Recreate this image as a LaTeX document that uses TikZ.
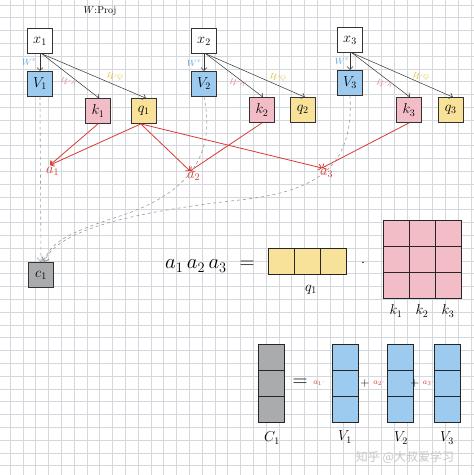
\documentclass[tikz,border=0pt]{standalone}
\usepackage{amsmath}
\usepackage{fontspec}
\newfontfamily\cjkfont{Noto Sans CJK SC}
\usetikzlibrary{arrows.meta, positioning}
\definecolor{cGrid}{HTML}{D4D7DC}
\definecolor{cBlue}{HTML}{9DCBEF}
\definecolor{cPink}{HTML}{F3BDC7}
\definecolor{cYellow}{HTML}{F8E29A}
\definecolor{cGray}{HTML}{A9ABAD}
\definecolor{cRed}{HTML}{D93A35}
\definecolor{cDash}{HTML}{9A9A9A}
\definecolor{cLblue}{HTML}{5FA3D8}
\definecolor{cLpink}{HTML}{E593A3}
\definecolor{cLyellow}{HTML}{E5C443}
\tikzset{
  box/.style={
    rectangle, draw=black!80, fill=#1, line width=0.8pt,
    minimum width=25pt, minimum height=25pt, inner sep=0pt, font=\Large
  },
  xbox/.style={box=white},
  vbox/.style={box=cBlue},
  kbox/.style={box=cPink},
  qbox/.style={box=cYellow},
  cbox/.style={box=cGray},
  gridline/.style={cGrid, line width=0.45pt},
  cell/.style={draw=black!85, line width=1pt, fill=#1},
  arrow/.style={-{Straight Barb[length=3pt]}, line width=0.5pt, black!80},
  redarrow/.style={-{Straight Barb[length=3pt]}, line width=0.8pt, cRed},
  dasharrow/.style={-{Straight Barb[length=4pt]}, dashed, line width=0.6pt, cDash},
  wlabel/.style={font=\small, text=#1, inner sep=0pt},
  alabel/.style={font=\Large, text=cRed, inner sep=0pt},
  plain/.style={inner sep=0pt, font=\Large},
}
\begin{document}
\begin{tikzpicture}[x=1pt, y=-1pt]

  % Paper
  \fill[white] (0,0) rectangle (474,475);
  \useasboundingbox (0,0) rectangle (474,475);
  \foreach \i in {0,...,36} \draw[gridline] (10+12.8*\i,0) -- (10+12.8*\i,475);
  \foreach \j in {0,...,36} \draw[gridline] (0,4.8+12.8*\j) -- (474,4.8+12.8*\j);

  \node[plain, font=\normalsize] (proj) at (100,11) {$W$:Proj};

  % Token 1
  \node[xbox] (x1) at (40,41) {$x_1$};
  \node[vbox, below=17pt of x1] (v1) {$V_1$};
  \node[kbox] (k1) at (98,111) {$k_1$};
  \node[qbox, right=20pt of k1] (q1) {$q_1$};

  % Token 2
  \node[xbox] (x2) at (204,41) {$x_2$};
  \node[vbox, below=17pt of x2] (v2) {$V_2$};
  \node[kbox] (k2) at (262,110) {$k_2$};
  \node[qbox, right=15pt of k2] (q2) {$q_2$};

  % Token 3
  \node[xbox] (x3) at (350,40) {$x_3$};
  \node[vbox, below=17pt of x3] (v3) {$V_3$};
  \node[kbox] (k3) at (409,110) {$k_3$};
  \node[qbox, right=16pt of k3] (q3) {$q_3$};

  % Projections
  \draw[arrow] (x1.south) -- (v1.north);
  \draw[arrow] ([xshift=2pt]x1.south) -- ([xshift=1pt]k1.north);
  \draw[arrow] ([xshift=2pt]x1.south) -- ([xshift=2pt]q1.north);
  \draw[arrow] (x2.south) -- (v2.north);
  \draw[arrow] ([xshift=2pt]x2.south) -- ([xshift=1pt]k2.north);
  \draw[arrow] ([xshift=2pt]x2.south) -- ([xshift=2pt]q2.north);
  \draw[arrow] (x3.south) -- (v3.north);
  \draw[arrow] ([xshift=2pt]x3.south) -- ([xshift=1pt]k3.north);
  \draw[arrow] ([xshift=2pt]x3.south) -- ([xshift=2pt]q3.north);

  \node[wlabel=cLblue] (wv1) at (29,62) {$W^v$};
  \node[wlabel=cLpink, rotate=-25] (wk1) at (69,83) {$W^K$};
  \node[wlabel=cLyellow, rotate=-23] (wq1) at (115,77) {$W^Q$};
  \node[wlabel=cLblue] (wv2) at (194,63) {$W^v$};
  \node[wlabel=cLpink, rotate=-25] (wk2) at (238,84) {$W^K$};
  \node[wlabel=cLyellow, rotate=-23] (wq2) at (278,78) {$W^Q$};
  \node[wlabel=cLblue] (wv3) at (342,61) {$W^v$};
  \node[wlabel=cLpink, rotate=-25] (wk3) at (385,85) {$W^K$};
  \node[wlabel=cLyellow, rotate=-23] (wq3) at (421,77) {$W^Q$};

  % Attention scores
  \coordinate (pa1) at (50,165);
  \coordinate (pa2) at (190,171);
  \coordinate (pa3) at (322,168);
  \node[alabel, anchor=north west] (a1) at (46,167) {$a_1$};
  \node[alabel, anchor=north west] (a2) at (187,172) {$a_2$};
  \node[alabel, anchor=north west] (a3) at (320,169) {$a_3$};

  \draw[redarrow] (k1.south) -- (pa1);
  \draw[redarrow] ([xshift=-3pt]q1.south) -- (pa1);
  \draw[redarrow] ([xshift=-3pt]q1.south) -- (pa2);
  \draw[redarrow] ([xshift=-3pt]q1.south) -- (pa3);
  \draw[redarrow] (k2.south) -- (pa2);
  \draw[redarrow] (k3.south) -- (pa3);

  % Output
  \node[cbox] (c1) at (41,275) {$c_1$};
  \draw[dasharrow] (v1.south) -- (c1.north);
  \draw[dasharrow] (v2.south) .. controls (214,145) and (200,190) .. (120,216)
    .. controls (70,232) and (50,242) .. ([xshift=3pt]c1.north);
  \draw[dasharrow] (v3.south) .. controls (354,170) and (315,193) .. (230,201)
    .. controls (140,212) and (58,228) .. ([xshift=3pt]c1.north);

  % a = q1 . K
  \node[plain, font=\huge] (alist) at (196,266) {$a_1\,a_2\,a_3$};
  \node[plain, font=\huge] (eq1) at (247,265) {$=$};
  \foreach \i in {0,1,2}
    \draw[cell=cYellow] (268+26*\i,248) rectangle ++(26,26);
  \node[plain] (qlab) at (311,290) {$q_1$};
  \node[plain] (dot1) at (363,263) {$\cdot$};
  \foreach \i in {0,1,2}
    \foreach \j in {0,1,2}
      \draw[cell=cPink] (383+26*\i,220+26*\j) rectangle ++(26,26);
  \node[plain] (klab1) at (396,311) {$k_1$};
  \node[plain] (klab2) at (422,311) {$k_2$};
  \node[plain] (klab3) at (448,311) {$k_3$};

  % c1 = sum a_i V_i
  \foreach \j in {0,1,2} {
    \draw[cell=cGray] (258,344+26*\j) rectangle ++(26,26);
    \draw[cell=cBlue] (332,344+26*\j) rectangle ++(26,26);
    \draw[cell=cBlue] (387,344+26*\j) rectangle ++(26,26);
    \draw[cell=cBlue] (434,344+26*\j) rectangle ++(26,26);
  }
  \node[plain, font=\huge] (eq2) at (300,383) {$=$};
  \node[plain, font=\footnotesize, text=cRed] (a1dot) at (319,383) {$a_1\cdot$};
  \node[plain, font=\large] (plus1) at (365,383) {$+$};
  \node[plain, font=\footnotesize, text=cRed] (a2dot) at (379,383) {$a_2\cdot$};
  \node[plain, font=\large] (plus2) at (415,383) {$+$};
  \node[plain, font=\footnotesize, text=cRed] (a3dot) at (428.5,383) {$a_3\cdot$};
  \node[plain] (clab) at (272,438) {$C_1$};
  \node[plain] (vlab1) at (345,437) {$V_1$};
  \node[plain] (vlab2) at (401,438) {$V_2$};
  \node[plain] (vlab3) at (447,438) {$V_3$};

  \node[font=\cjkfont\large, text=black!22] (mark) at (405,457) {知乎 @大叔爱学习};

\end{tikzpicture}
\end{document}
